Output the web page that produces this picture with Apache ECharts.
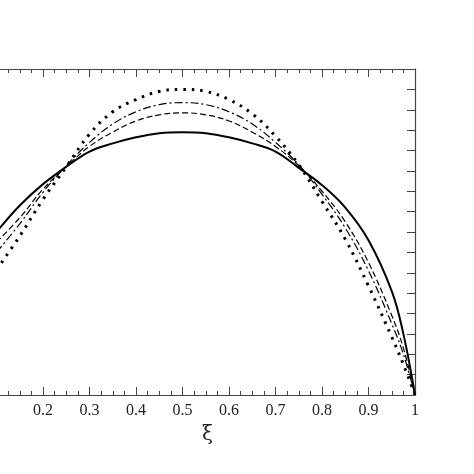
<!DOCTYPE html>
<html>
<head>
<meta charset="utf-8">
<script src="https://cdn.jsdelivr.net/npm/echarts@6/dist/echarts.min.js"></script>
<style>html,body{margin:0;padding:0;background:#fff}#c{width:474px;height:474px}</style>
</head>
<body>
<div id="c"></div>
<script>
// 横坐标 ξ
var xi = [0.1, 0.15, 0.2, 0.25, 0.3, 0.35, 0.4, 0.45, 0.5, 0.55, 0.6, 0.65, 0.7, 0.75, 0.8, 0.85, 0.9, 0.95, 0.975, 1];
// 四条曲线
var solid   = [8.0, 9.3, 10.35, 11.2, 11.95, 12.35, 12.65, 12.85, 12.9, 12.85, 12.65, 12.35, 11.95, 11.15, 10.3, 9.2, 7.6, 5.1, 3.0, 0];
var dashed  = [7.5, 8.7, 10.1, 11.2, 12.2, 12.9, 13.45, 13.75, 13.85, 13.75, 13.45, 12.9, 12.2, 11.25, 10.0, 8.5, 6.5, 3.9, 2.3, 0];
var dashdot = [7.0, 8.4, 9.95, 11.25, 12.4, 13.3, 13.9, 14.25, 14.35, 14.25, 13.9, 13.3, 12.4, 11.3, 9.85, 8.2, 6.1, 3.5, 2.0, 0];
var dotted  = [6.15, 7.8, 9.6, 11.2, 12.8, 13.9, 14.5, 14.9, 15.0, 14.9, 14.5, 13.8, 12.7, 11.3, 9.5, 7.65, 5.35, 2.85, 1.5, 0];
var xTicks = [0.1, 0.2, 0.3, 0.4, 0.5, 0.6, 0.7, 0.8, 0.9, 1];
var xMinor = [0.125, 0.15, 0.175, 0.225, 0.25, 0.275, 0.325, 0.35, 0.375, 0.425, 0.45, 0.475,
              0.525, 0.55, 0.575, 0.625, 0.65, 0.675, 0.725, 0.75, 0.775, 0.825, 0.85, 0.875,
              0.925, 0.95, 0.975];

function pairs(ys) {
    return xi.map(function (x, i) { return [x, ys[i]]; });
}

var myChart = echarts.init(document.getElementById("c"));
var axisLine = {show: true, lineStyle: {color: '#444', width: 1.2}};
var xMin = 0.1075;

function xAx(pos, vals, len, labels) {
    return {
        type: 'value', min: xMin, max: 1, position: pos,
        name: labels ? 'ξ' : '', nameLocation: 'middle', nameGap: 30,
        nameTextStyle: {fontFamily: 'DejaVu Serif', fontSize: 20, color: '#222'},
        axisLine: axisLine,
        axisTick: {inside: true, length: len, customValues: vals, lineStyle: {color: '#444'}},
        splitLine: {show: false},
        axisLabel: labels ? {
            show: true, customValues: xTicks,
            fontFamily: 'Liberation Serif', fontSize: 16, color: '#222', margin: 8,
            formatter: function (v) { return String(+v.toFixed(2)); }
        } : {show: false}
    };
}

var option = {
    animation: false,
    grid: {left: 0, right: 59, top: 69, bottom: 79},
    xAxis: [
        xAx('bottom', xTicks, 8, true),
        xAx('bottom', xMinor, 4, false),
        xAx('top', xTicks, 8, false),
        xAx('top', xMinor, 4, false)
    ],
    yAxis: [
        {
            type: 'value', min: 0, max: 16, interval: 1, position: 'right',
            axisLine: axisLine,
            axisTick: {inside: true, length: 8, lineStyle: {color: '#444'}},
            splitLine: {show: false},
            axisLabel: {show: false}
        }
    ],
    series: [
        {type: 'line', data: pairs(solid), smooth: 0.4, showSymbol: false,
         lineStyle: {color: '#000', width: 2}},
        {type: 'line', data: pairs(dashed), smooth: 0.4, showSymbol: false,
         lineStyle: {color: '#000', width: 1.2, type: [6, 3]}},
        {type: 'line', data: pairs(dashdot), smooth: 0.4, showSymbol: false,
         lineStyle: {color: '#000', width: 1.2, type: [8, 3, 2, 3]}},
        {type: 'line', data: pairs(dotted), smooth: 0.4, showSymbol: false,
         lineStyle: {color: '#000', width: 3, type: [2.5, 6]}}
    ]
};
myChart.setOption(option, true);
</script>
</body>
</html>
